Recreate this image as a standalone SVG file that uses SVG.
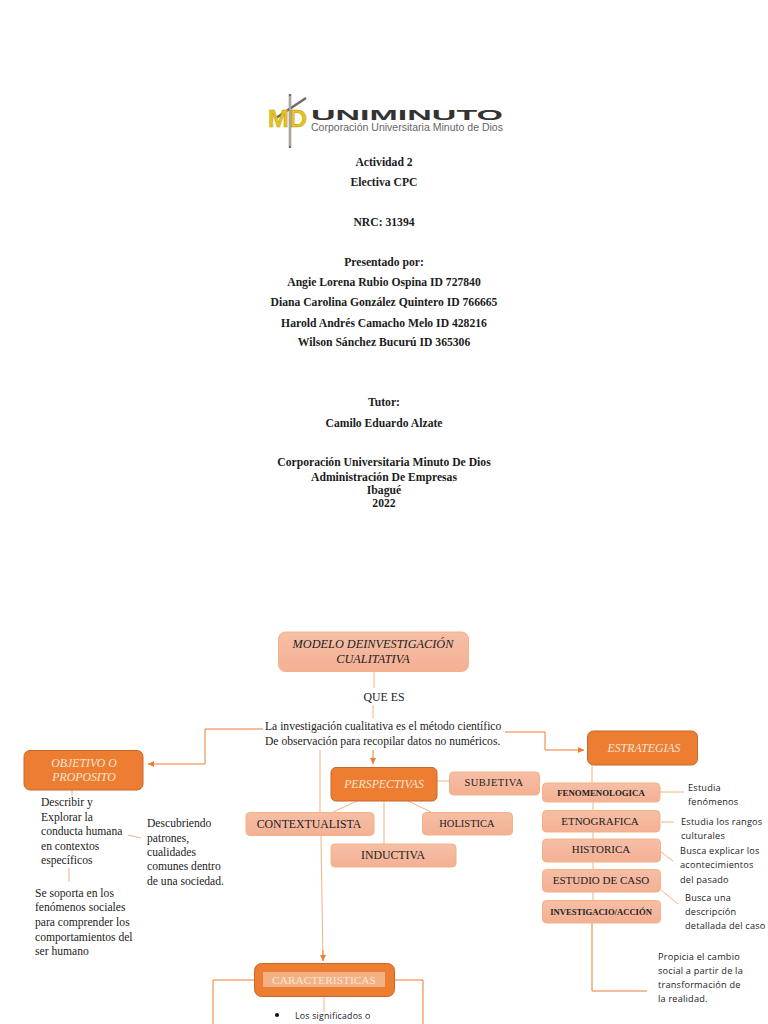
<svg xmlns="http://www.w3.org/2000/svg" width="768" height="1024" viewBox="0 0 768 1024">
<defs>
<linearGradient id="lg" x1="0" y1="0" x2="0" y2="1"><stop offset="0" stop-color="#f6bfa6"/><stop offset="1" stop-color="#f4b094"/></linearGradient>
<marker id="ah" markerWidth="7" markerHeight="7" refX="6" refY="3" orient="auto" markerUnits="userSpaceOnUse"><path d="M0,0 L6,3 L0,6 Z" fill="#ed7d31"/></marker>
</defs>
<style>
text{font-family:"Liberation Serif","Times New Roman",serif;fill:#222}
.t{font-size:11.650px;font-weight:bold;text-anchor:middle;fill:#1c1c1c}
.b{font-size:11.600px}
.s{font-family:"Open Sans","Noto Sans",sans-serif;font-size:9.200px;fill:#222;letter-spacing:.2px}
rect.light{fill:url(#lg);stroke:#f4b183;stroke-width:1}
rect.dark{fill:#ed7d31;stroke:#c9672a;stroke-width:1}
.n{text-anchor:middle;font-size:11.800px;fill:#222}
.w{text-anchor:middle;font-size:11.800px;font-style:italic;fill:#fbe5d6}
.c{fill:none;stroke:#f4b183;stroke-width:1}
.o{fill:none;stroke:#ed7d31;stroke-width:1}
</style>

<g id="logo">
<path d="M276,118 L306,98" fill="none" stroke="#6e6a64" stroke-width="2.400"/>
<text x="268" y="127" font-size="23" font-weight="bold" style="font-family:'Liberation Sans',sans-serif;fill:#e8c21c;stroke:#b99a10;stroke-width:.4" textLength="39" lengthAdjust="spacingAndGlyphs">MD</text>
<path d="M290,94 V148" fill="none" stroke="#6e6a64" stroke-width="2.400"/>
<path d="M290,96 V146" fill="none" stroke="#e6e2da" stroke-width="1"/>
<text x="311" y="120" font-size="15" font-weight="bold" style="font-family:'Liberation Sans',sans-serif;fill:#333" textLength="192" lengthAdjust="spacingAndGlyphs">UNIMINUTO</text>
<text x="311" y="131" font-size="10" style="font-family:'Liberation Sans',sans-serif;fill:#666" textLength="192" lengthAdjust="spacingAndGlyphs">Corporación Universitaria Minuto de Dios</text>
</g>

<g id="cover">
<text class="t" x="384" y="166">Actividad 2</text>
<text class="t" x="384" y="186">Electiva CPC</text>
<text class="t" x="384" y="226">NRC: 31394</text>
<text class="t" x="384" y="266">Presentado por:</text>
<text class="t" x="384" y="286">Angie Lorena Rubio Ospina ID 727840</text>
<text class="t" x="384" y="306">Diana Carolina González Quintero ID 766665</text>
<text class="t" x="384" y="327">Harold Andrés Camacho Melo ID 428216</text>
<text class="t" x="384" y="346">Wilson Sánchez Bucurú ID 365306</text>
<text class="t" x="384" y="406">Tutor:</text>
<text class="t" x="384" y="427">Camilo Eduardo Alzate</text>
<text class="t" x="384" y="466">Corporación Universitaria Minuto De Dios</text>
<text class="t" x="384" y="481">Administración De Empresas</text>
<text class="t" x="384" y="494">Ibagué</text>
<text class="t" x="384" y="507">2022</text>
</g>

<g id="connectors">
<path class="c" d="M374,672 V688 M373,705 V718"/>
<path class="o" d="M263,729 H205 V764 H148" marker-end="url(#ah)"/>
<path class="o" d="M505,732 H545 V750 H584" marker-end="url(#ah)"/>
<path class="o" d="M373,750 V764" marker-end="url(#ah)"/>
<path class="c" d="M320,750 V812 M321,836 L323,961"/>
<path class="o" d="M323,950 V961" marker-end="url(#ah)"/>
<path class="c" d="M357,801 L333,812 M437,781 H449 M408,801 L431,812 M384,801 V844"/>
<path class="c" d="M72,790 V796 M128,835 L141,838 M69,868 V882"/>
<path class="c" d="M592,765 V783 M593,802 V810 M593,832 V839 M593,862 V869 M593,892 V900"/>
<path class="c" d="M660,792 H684 M661,822 H674 M661,852 L673,861 M661,890 L678,904"/>
<path class="o" d="M592,923 V991 H647"/>
<path class="o" d="M254,980 H213 V1024 M395,980 H423 V1024"/>
<path class="c" d="M324,997 V1012"/>
</g>

<g id="n-modelo"><rect class="light" x="278.500" y="632" width="190" height="39.500" rx="7"/>
<text class="n" font-style="italic" x="373" y="648" style="font-size:12.300px">MODELO DEINVESTIGACIÓN</text><text class="n" font-style="italic" x="373" y="663" style="font-size:12.300px">CUALITATIVA</text></g>
<text class="n" x="384" y="701">QUE ES</text>
<g id="n-definicion"><text class="b" x="265" y="730">La investigación cualitativa es el método científico</text>
<text class="b" x="265" y="745">De observación para recopilar datos no numéricos.</text></g>
<g id="n-objetivo"><rect class="dark" x="24" y="750.500" width="119" height="39.500" rx="6"/>
<text class="w" x="84" y="767">OBJETIVO O</text><text class="w" x="84" y="781">PROPOSITO</text></g>
<g id="n-perspectivas"><rect class="dark" x="331" y="767.500" width="106" height="33.500" rx="5"/><text class="w" x="384" y="788">PERSPECTIVAS</text></g>
<g id="n-estrategias"><rect class="dark" x="587.500" y="731" width="110" height="34" rx="6"/><text class="w" x="644" y="752">ESTRATEGIAS</text></g>
<g id="n-subjetiva"><rect class="light" x="449.500" y="772" width="90" height="23" rx="4"/><text class="n" x="494" y="786" style="font-size:10.500px;letter-spacing:.5px">SUBJETIVA</text></g>
<g id="n-contextualista"><rect class="light" x="246" y="812.500" width="128" height="23" rx="4"/><text class="n" x="309" y="828">CONTEXTUALISTA</text></g>
<g id="n-holistica"><rect class="light" x="422.500" y="812.500" width="90" height="22.500" rx="4"/><text class="n" x="467" y="827" style="font-size:10.500px">HOLISTICA</text></g>
<g id="n-inductiva"><rect class="light" x="331" y="844" width="125" height="23" rx="4"/><text class="n" x="393" y="859">INDUCTIVA</text></g>
<g id="n-fenomenologica"><rect class="light" x="542.500" y="783" width="117.500" height="19" rx="4"/><text class="n" x="601" y="796" style="font-size:8.800px;font-weight:bold">FENOMENOLOGICA</text></g>
<g id="n-etnografica"><rect class="light" x="542.500" y="810.500" width="117.500" height="21.500" rx="4"/><text class="n" x="600" y="825" style="font-size:11px">ETNOGRAFICA</text></g>
<g id="n-historica"><rect class="light" x="542.500" y="839" width="118" height="23" rx="4"/><text class="n" x="601" y="853" style="font-size:11px">HISTORICA</text></g>
<g id="n-estudio"><rect class="light" x="542.500" y="869.500" width="118" height="22.500" rx="4"/><text class="n" x="601" y="884" style="font-size:11px">ESTUDIO DE CASO</text></g>
<g id="n-investigacion"><rect class="light" x="542.500" y="900.500" width="118" height="22.500" rx="4"/><text class="n" x="601" y="915" style="font-size:8.600px;font-weight:bold">INVESTIGACIO/ACCIÓN</text></g>
<g id="n-caracteristicas"><rect x="254.500" y="963.500" width="140" height="33" rx="7" fill="#ed7d31" stroke="#c9672a"/><rect x="263" y="972" width="122" height="15" fill="#f4b183"/><text class="n" x="324" y="984" style="fill:#fbe5d6;font-size:11.400px">CARACTERISTICAS</text></g>

<g id="n-describir"><text class="b" x="41" y="806">Describir y</text><text class="b" x="41" y="821">Explorar la</text><text class="b" x="41" y="835">conducta humana</text><text class="b" x="41" y="850">en contextos</text><text class="b" x="41" y="864">específicos</text></g>
<g id="n-descubriendo"><text class="b" x="147" y="827">Descubriendo</text><text class="b" x="147" y="842">patrones,</text><text class="b" x="147" y="856">cualidades</text><text class="b" x="147" y="870">comunes dentro</text><text class="b" x="147" y="885">de una sociedad.</text></g>
<g id="n-soporta"><text class="b" x="35" y="897">Se soporta en los</text><text class="b" x="35" y="911">fenómenos sociales</text><text class="b" x="35" y="926">para comprender los</text><text class="b" x="35" y="941">comportamientos del</text><text class="b" x="35" y="955">ser humano</text></g>

<g id="n-d1"><text class="s" x="688" y="791">Estudia</text><text class="s" x="688" y="805">fenómenos</text></g>
<g id="n-d2"><text class="s" x="681" y="825">Estudia los rangos</text><text class="s" x="681" y="839">culturales</text></g>
<g id="n-d3"><text class="s" x="680" y="854">Busca explicar los</text><text class="s" x="680" y="868">acontecimientos</text><text class="s" x="680" y="883">del pasado</text></g>
<g id="n-d4"><text class="s" x="685" y="901">Busca una</text><text class="s" x="685" y="915">descripción</text><text class="s" x="685" y="929">detallada del caso</text></g>
<g id="n-d5"><text class="s" x="658" y="960">Propicia el cambio</text><text class="s" x="658" y="974">social a partir de la</text><text class="s" x="658" y="988">transformación de</text><text class="s" x="658" y="1002">la realidad.</text></g>
<g id="n-d6"><circle cx="277" cy="1015" r="2" fill="#111"/><text class="s" x="295" y="1019" style="font-size:8.800px">Los significados o</text></g>
</svg>
